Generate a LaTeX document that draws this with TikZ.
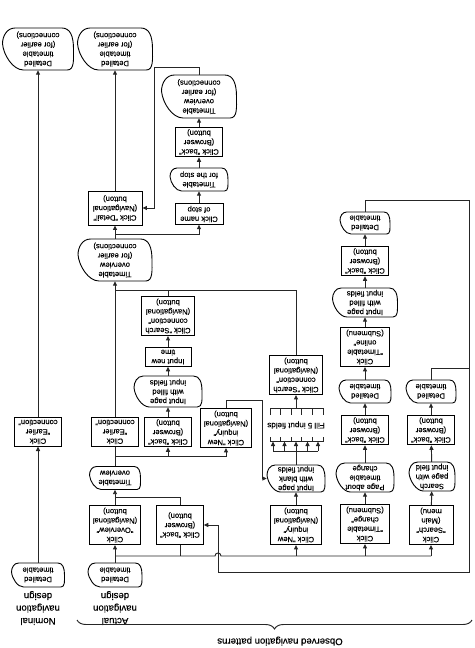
\documentclass[tikz,border=0pt]{standalone}
\usepackage{fontspec}
\setmainfont{Liberation Sans}[FakeBold=0.3]
\usetikzlibrary{arrows.meta,decorations.pathreplacing}

% screen: name, x, y, half width, half height, text
\newcommand{\screen}[6]{%
  \node[screen, minimum width={2*#4}, minimum height={2*#5}] (#1) at (#2,#3) {#6};
  \draw[frame] ({#2-#4+#5},{#3+#5}) -- ({#2+#4-0.3*#5},{#3+#5})
    .. controls ({#2+#4+0.05*#5},{#3+#5}) and ({#2+#4},{#3+0.5*#5}) .. ({#2+#4},{#3})
    .. controls ({#2+#4},{#3-0.6*#5}) and ({#2+#4-0.15*#5},{#3-#5}) .. ({#2+#4-0.55*#5},{#3-#5})
    -- ({#2-#4+0.6*#5},{#3-#5})
    .. controls ({#2-#4+0.2*#5},{#3-#5}) and ({#2-#4},{#3-0.6*#5}) .. ({#2-#4},{#3-0.25*#5})
    .. controls ({#2-#4+0.05*#5},{#3+0.3*#5}) and ({#2-#4+0.5*#5},{#3+#5}) .. ({#2-#4+#5},{#3+#5}) -- cycle;
}

\begin{document}
\begin{tikzpicture}[x=1pt, y=-1pt]
  \tikzset{
    frame/.style={draw=black, line width=0.9pt},
    action/.style={draw, line width=0.9pt, rotate=180, align=center, minimum width=46pt,
      inner xsep=3.5pt, inner ysep=2pt, font=\fontsize{7.6}{9.3}\selectfont},
    screen/.style={rotate=180, align=center, inner sep=0pt, font=\fontsize{7.6}{9.3}\selectfont},
    caption/.style={rotate=180, align=center, font=\fontsize{9.6}{12.5}\selectfont},
    wire/.style={draw=black!85, line width=0.95pt},
    flow/.style={wire, -{Triangle[length=4.5pt, width=4pt]}}
  }
  \useasboundingbox (0,0) rectangle (474,648);

%% Nominal design
  \screen{nomStart}{38}{575}{26.5}{12}{Detailed\\timetable}
  \node[action] (nomClick) at (38,432) {Click\\"Earlier\\connection"};
  \screen{nomTop}{38}{49}{35.5}{21}{Detailed\\timetable\\(for earlier\\connections)}

%% Actual design
  \screen{actStart}{115}{575}{27}{12}{Detailed\\timetable}
  \node[action, minimum height=39pt] (overviewClick) at (115,525) {Click\\"Overview"\\(Navigational\\button)};
  \node[action, minimum height=39pt] (backLow) at (180,525) {Click "back"\\(Browser\\button)};
  \screen{overview}{115}{478}{25.5}{11.5}{Timetable\\overview}
  \node[action] (earlierAct) at (115,432) {Click\\"Earlier\\connection"};
  \node[action] (backMid) at (168,432) {Click "back"\\(Browser\\button)};
  \node[action] (newInqMid) at (226,428) {Click "New\\inquiry"\\(Navigational\\button)};
  \screen{filledMid}{168}{391.5}{34}{15.5}{Input page\\with filled\\input fields}
  \node[action] (newTime) at (168,357) {Input new\\time};
  \node[action] (searchMid) at (168,316) {Click "Search\\connection"\\(Navigational\\button)};
  \screen{ovEarlier}{115}{260}{37}{21}{Timetable\\overview\\(for earlier\\connections)}
  \node[action, minimum height=34pt, minimum width=54pt] (detailClick) at (115,208) {Click "Detail"\\(Navigational\\button)};
  \node[action, minimum width=48pt] (nameClick) at (199,214) {Click name\\of stop};
  \screen{stopTT}{199}{179.5}{29}{11.5}{Timetable\\for the stop}
  \node[action] (backTop) at (199,142) {Click "back"\\(Browser\\button)};
  \screen{ovEarlierTop}{199}{96.5}{37.5}{21.5}{Timetable\\overview\\(for earlier\\connections)}
  \screen{actTop}{115}{49}{37.5}{21}{Detailed\\timetable\\(for earlier\\connections)}

%% Observed patterns
  \node[action] (newInqLow) at (296,525) {Click "New\\inquiry"\\(Navigational\\button)};
  \screen{blankPage}{296}{478.5}{29}{13.5}{Input page\\with blank\\input fields}
  \node[screen, font=\fontsize{8}{9.3}\selectfont] (fill) at (296,425) {Fill 5 input fields};
  \node[action] (searchRight) at (296,375) {Click "Search\\connection"\\(Navigational\\button)};
  \node[action, minimum width=49pt] (ttChange) at (365,524) {Click\\"Timetable\\change"\\(Submenu)};
  \screen{changePage}{365}{477.5}{29}{14.5}{Page about\\timetable\\change}
  \node[action] (backC2a) at (365,430) {Click "back"\\(Browser\\button)};
  \screen{detC2a}{365}{391.5}{26}{11.5}{Detailed\\timetable}
  \node[action, minimum width=49pt] (ttOnline) at (365,347) {Click\\"Timetable\\online"\\(Submenu)};
  \screen{filledC2}{365}{302.5}{32.5}{14.5}{Input page\\with filled\\input fields}
  \node[action] (backC2b) at (365,261) {Click "back"\\(Browser\\button)};
  \screen{detC2b}{365}{223}{25}{11}{Detailed\\timetable}
  \node[action, minimum width=44pt] (searchMain) at (431,525) {Click\\"Search"\\(Main\\menu)};
  \screen{searchPage}{432}{476.5}{23}{14.5}{Search\\page with\\input field}
  \node[action] (backC3) at (431,430) {Click "back"\\(Browser\\button)};
  \screen{detC3}{431}{391.5}{25}{11.5}{Detailed\\timetable}

%% Captions
  \node[caption] (nomLabel) at (38,608) {Nominal\\navigation\\design};
  \node[caption] (actLabel) at (115,608) {Actual\\navigation\\design};
  \node[caption] (obsLabel) at (280,641) {Observed navigation patterns};
  \draw[wire, decorate, decoration={brace, amplitude=9pt}] (472,620) -- (77,620);

%% Junctions
  \coordinate (bus) at (115,556);
  \coordinate (fork) at (115,456);
  \coordinate (join) at (115,290);
  \coordinate (loopA) at (154,208);
  \coordinate (loopB) at (262,478.5);
  \coordinate (fillBar) at (296,451);
  \coordinate (fillTop) at (296,408);
  \coordinate (railTop) at (469,200);
  \coordinate (railBot) at (469,572);
  \coordinate (turn) at (218,525);

%% Edges
  \draw[flow] (nomStart) -- (nomClick);
  \draw[flow] (nomClick) -- (nomTop);

  \draw[flow] (actStart) -- (overviewClick);
  \draw[wire] (bus) -- (215,556) .. controls (215,552) and (221,552) .. (221,556) -- (bus -| searchMain);
  \draw[wire] (backLow) -- (backLow |- bus);
  \foreach \n in {newInqLow, ttChange, searchMain}
    \draw[flow] (bus -| \n) -- (\n);
  \draw[flow] (overviewClick) -- (overview);
  \draw[wire] (backLow.south) -- ++(0,-8) -| (overviewClick.south);
  \draw[wire] (overview) -- (earlierAct);
  \foreach \n in {backMid, newInqMid}
    \draw[flow] (fork) -| (\n);
  \draw[flow] (earlierAct) -- (ovEarlier);
  \draw[flow] (backMid) -- (filledMid);
  \draw[flow] (filledMid) -- (newTime);
  \draw[flow] (newTime) -- (searchMid);
  \draw[wire] (searchRight) |- (join);
  \draw[wire] (searchMid) -- (searchMid |- join);
  \draw[flow] (ovEarlier) -- (detailClick);
  \draw[flow] (ovEarlier.south) -- ++(0,-4) -| (nameClick);
  \draw[flow] (nameClick) -- (stopTT);
  \draw[flow] (stopTT) -- (backTop);
  \draw[flow] (backTop) -- (ovEarlierTop);
  \draw[flow] (ovEarlierTop.south) -- ++(0,-7) -| (loopA) -- (detailClick.west);
  \draw[flow] (detailClick) -- (actTop);

  \draw[flow] (newInqLow) -- (blankPage);
  \draw[flow] (newInqMid.south) -- ++(0,-8) -| (loopB) -- (blankPage.east);
  \draw[wire] (blankPage) -- (fillBar);
  \draw[wire] (273,451) -- (318,451);
  \foreach \x in {273,284.5,296,307.5,318}
    \draw[flow] (\x,451) -- (\x,441.5);
  \draw[wire] (270,415) -- (270,408) -- (323,408) -- (323,415);
  \draw[wire] (270,437) -- (270,441) -- (323,441) -- (323,437);
  \foreach \x in {280.6,291.2,301.8,312.4} {
    \draw[wire] (\x,408) -- (\x,415);
    \draw[wire] (\x,441) -- (\x,437);
  }
  \draw[flow] (fillTop) -- (searchRight);
  \foreach \a/\b in {ttChange/changePage, changePage/backC2a, backC2a/detC2a, detC2a/ttOnline,
      ttOnline/filledC2, filledC2/backC2b, backC2b/detC2b,
      searchMain/searchPage, searchPage/backC3, backC3/detC3}
    \draw[flow] (\a) -- (\b);
  \draw[flow] (detC2b.south) |- (railTop) -- (railBot) -| (turn) -- (backLow.west);
  \draw[wire] (detC3.south) -- ++(0,-11) -| (railBot);
\end{tikzpicture}
\end{document}
